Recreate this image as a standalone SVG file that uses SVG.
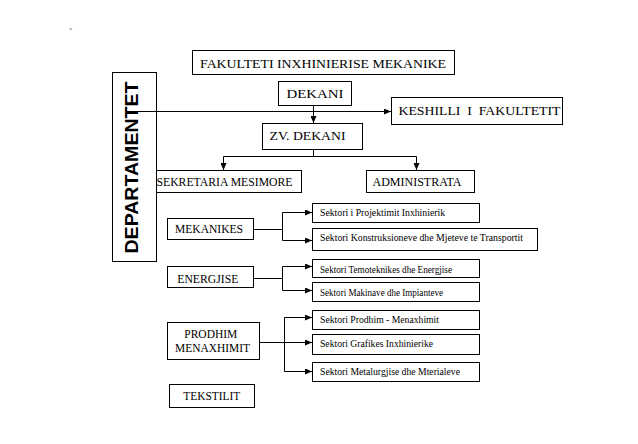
<svg xmlns="http://www.w3.org/2000/svg" width="638" height="444" viewBox="0 0 638 444">
<style>
.b{fill:#fff;stroke:#000;stroke-width:1}
.t{font-family:'Liberation Serif','Times New Roman',serif;font-size:13px;fill:#000}
.s{font-family:'Liberation Serif','Times New Roman',serif;font-size:10.3px;fill:#000}
.c{fill:none;stroke:#000;stroke-width:1}
</style>
<defs>
<marker id="a" markerWidth="7" markerHeight="6" refX="7" refY="3" orient="auto" markerUnits="userSpaceOnUse">
<path d="M0,0 L7,3 L0,6 Z" fill="#000"/>
</marker>
</defs>
<rect width="638" height="444" fill="#fff"/>
<text x="69" y="36" class="s">`</text>

<g id="fakulteti"><rect class="b" x="192.5" y="50.5" width="262" height="24"/><text class="t" x="200" y="67.5" textLength="246" lengthAdjust="spacingAndGlyphs">FAKULTETI INXHINIERISE MEKANIKE</text></g>
<g id="dekani"><rect class="b" x="278.5" y="81.5" width="73" height="24"/><text class="t" x="286.5" y="97.5" textLength="57" lengthAdjust="spacingAndGlyphs">DEKANI</text></g>
<g id="keshilli"><rect class="b" x="391.5" y="97.5" width="171" height="27"/><text class="t" x="398.5" y="114.5" textLength="162" lengthAdjust="spacingAndGlyphs" xml:space="preserve">KESHILLI  I  FAKULTETIT</text></g>
<g id="zvdekani"><rect class="b" x="262.5" y="123.5" width="100" height="26"/><text class="t" x="269.5" y="139.5" textLength="76" lengthAdjust="spacingAndGlyphs">ZV. DEKANI</text></g>
<g id="sekretaria"><rect class="b" x="140.5" y="170.5" width="161" height="22"/><text class="t" x="156.5" y="185.5" textLength="136" lengthAdjust="spacingAndGlyphs">SEKRETARIA MESIMORE</text></g>
<g id="administrata"><rect class="b" x="366.5" y="170.5" width="108" height="22"/><text class="t" x="372.5" y="185.5" textLength="89" lengthAdjust="spacingAndGlyphs">ADMINISTRATA</text></g>
<g id="departamentet"><rect class="b" x="112.5" y="72.5" width="44" height="189"/><text x="138.3" y="167.5" transform="rotate(-90 138.3 167.5)" text-anchor="middle" font-family="'Liberation Sans',Arial,sans-serif" font-weight="bold" font-size="17.6" textLength="172" lengthAdjust="spacingAndGlyphs">DEPARTAMENTET</text></g>

<g id="mekanikes"><rect class="b" x="167.5" y="218.5" width="86" height="21"/><text class="t" x="175" y="233" textLength="68" lengthAdjust="spacingAndGlyphs">MEKANIKES</text></g>
<g id="energjise"><rect class="b" x="167.5" y="266.5" width="86" height="21"/><text class="t" x="177.3" y="282.5" textLength="61" lengthAdjust="spacingAndGlyphs">ENERGJISE</text></g>
<g id="prodhim"><rect class="b" x="167.5" y="322.5" width="92" height="37"/><text class="t" x="184.3" y="338" font-size="12.4" textLength="53" lengthAdjust="spacingAndGlyphs">PRODHIM</text><text class="t" x="175" y="352" font-size="12.4" textLength="75" lengthAdjust="spacingAndGlyphs">MENAXHIMIT</text></g>
<g id="tekstilit"><rect class="b" x="169.5" y="384.5" width="85" height="23"/><text class="t" x="183.3" y="400" textLength="57" lengthAdjust="spacingAndGlyphs">TEKSTILIT</text></g>

<g id="s1"><rect class="b" x="312.5" y="203.5" width="167" height="19"/><text class="s" x="320" y="216" textLength="125" lengthAdjust="spacingAndGlyphs">Sektori i Projektimit Inxhinierik</text></g>
<g id="s2"><rect class="b" x="312.5" y="228.5" width="225" height="22"/><text class="s" x="320" y="241" textLength="203" lengthAdjust="spacingAndGlyphs">Sektori Konstruksioneve dhe Mjeteve te Transportit</text></g>
<g id="s3"><rect class="b" x="312.5" y="259.5" width="167" height="18"/><text class="s" x="320" y="272.5" textLength="132" lengthAdjust="spacingAndGlyphs">Sektori Temoteknikes dhe Energjise</text></g>
<g id="s4"><rect class="b" x="312.5" y="282.5" width="167" height="19"/><text class="s" x="320" y="296" textLength="123" lengthAdjust="spacingAndGlyphs">Sektori Makinave dhe Impianteve</text></g>
<g id="s5"><rect class="b" x="312.5" y="310.5" width="167" height="19"/><text class="s" x="320" y="322.7" textLength="119" lengthAdjust="spacingAndGlyphs">Sektori Prodhim - Menaxhimit</text></g>
<g id="s6"><rect class="b" x="312.5" y="334.5" width="167" height="20"/><text class="s" x="320" y="346.7" textLength="113" lengthAdjust="spacingAndGlyphs">Sektori Grafikes Inxhinierike</text></g>
<g id="s7"><rect class="b" x="312.5" y="362.5" width="167" height="19"/><text class="s" x="320" y="375" textLength="140" lengthAdjust="spacingAndGlyphs">Sektori Metalurgjise dhe Mterialeve</text></g>

<g id="connectors">
<line class="c" x1="130" y1="111.5" x2="391" y2="111.5" marker-end="url(#a)"/>
<line class="c" x1="313.5" y1="106" x2="313.5" y2="123" marker-end="url(#a)"/>
<polyline class="c" points="313.5,150 313.5,156.5"/>
<polyline class="c" points="223.5,170 223.5,156.5 416.5,156.5 416.5,170"/>
<line class="c" x1="223.5" y1="160" x2="223.5" y2="170" marker-end="url(#a)"/>
<line class="c" x1="416.5" y1="160" x2="416.5" y2="170" marker-end="url(#a)"/>

<polyline class="c" points="254,229.5 282.5,229.5"/>
<polyline class="c" points="312,212.5 282.5,212.5 282.5,240.5 312,240.5"/>
<line class="c" x1="300" y1="212.5" x2="312" y2="212.5" marker-end="url(#a)"/>
<line class="c" x1="300" y1="240.5" x2="312" y2="240.5" marker-end="url(#a)"/>

<polyline class="c" points="254,278.5 282.5,278.5"/>
<polyline class="c" points="312,266.5 282.5,266.5 282.5,290.5 312,290.5"/>
<line class="c" x1="300" y1="266.5" x2="312" y2="266.5" marker-end="url(#a)"/>
<line class="c" x1="300" y1="290.5" x2="312" y2="290.5" marker-end="url(#a)"/>

<line class="c" x1="260" y1="342.5" x2="312" y2="342.5" marker-end="url(#a)"/>
<polyline class="c" points="312,317.5 284.5,317.5 284.5,371.5 312,371.5"/>
<line class="c" x1="300" y1="317.5" x2="312" y2="317.5" marker-end="url(#a)"/>
<line class="c" x1="300" y1="371.5" x2="312" y2="371.5" marker-end="url(#a)"/>
</g>
</svg>
